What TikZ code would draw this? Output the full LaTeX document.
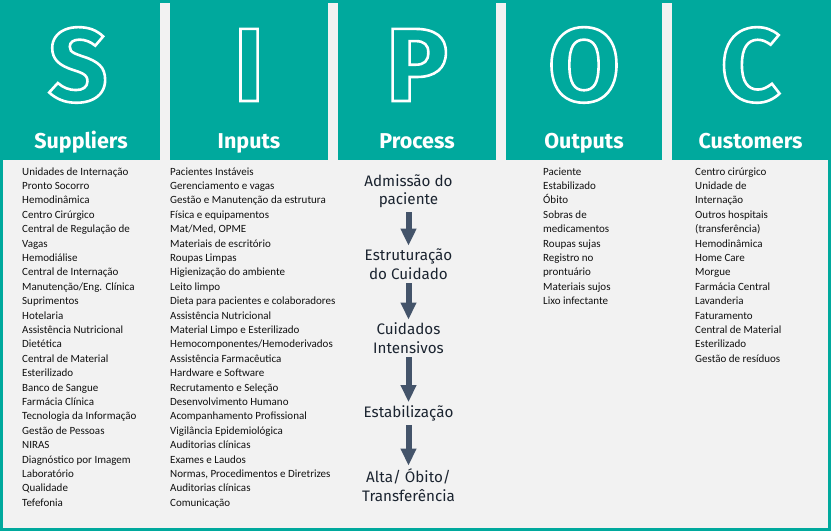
\documentclass[tikz,border=0pt]{standalone}
\usepackage{fontspec}
\setmainfont{Carlito}
\newfontfamily\fira{Fira Sans}
\usetikzlibrary{arrows.meta}
\definecolor{tealc}{HTML}{00A99D}
\definecolor{bgc}{HTML}{F2F2F2}
\definecolor{txtc}{HTML}{101010}
\definecolor{arrowc}{HTML}{44546A}
\definecolor{procc}{HTML}{1B2430}
\tikzset{
  hbox/.style={rectangle, fill=tealc, inner sep=0, minimum height=158pt},
  bigletter/.style={anchor=base, inner sep=0, text=white, font=\fira\bfseries\fontsize{104}{104}\selectfont},
  hlabel/.style={anchor=base, inner sep=0, text=white, font=\fira\bfseries\fontsize{21.5}{24}\selectfont},
  item/.style={anchor=base west, inner sep=0, text=txtc, font=\fontsize{11}{13}\selectfont},
  procnode/.style={align=center, inner sep=0, text=procc, font=\fira\fontsize{15.2}{18.5}\selectfont},
  arr/.style={draw=arrowc, line width=6pt, -{Triangle[width=15pt,length=17pt]}, shorten <=4pt, shorten >=3pt}
}
\newcommand{\outl}[1]{\special{pdf:literal direct 1 Tr 2.6 w 1 1 1 RG}#1\special{pdf:literal direct 0 Tr}}
\begin{document}
\begin{tikzpicture}[x=1pt,y=-1pt]
\useasboundingbox (0,0) rectangle (831,531);
\fill[bgc] (0,0) rectangle (831,531);
\draw[tealc, line width=3.4pt] (1.7,1.7) rectangle (829.3,529.3);
% header boxes
\node[hbox, minimum width=158pt] (hS) at (81,81) {};
\node[hbox, minimum width=158pt] (hI) at (249,81) {};
\node[hbox, minimum width=158pt] (hP) at (417,81) {};
\node[hbox, minimum width=156pt] (hO) at (584,81) {};
\node[hbox, minimum width=157pt] (hC) at (750.5,81) {};
% big letters
\node[bigletter] (lS) at (78,101) {\outl{S}};
\node[bigletter] (lI) at (249,101) {\outl{I}};
\node[bigletter] (lP) at (417,101) {\outl{P}};
\node[bigletter] (lO) at (584,101) {\outl{O}};
\node[bigletter] (lC) at (750.5,101) {\outl{C}};
% labels
\node[hlabel] (tS) at (81,148) {Suppliers};
\node[hlabel] (tI) at (249,148) {Inputs};
\node[hlabel] (tP) at (417,148) {Process};
\node[hlabel] (tO) at (584,148) {Outputs};
\node[hlabel] (tC) at (750.5,148) {Customers};
% suppliers
\foreach \t [count=\i from 0] in {Unidades de Internação, Pronto Socorro, Hemodinâmica, Centro Cirúrgico, Central de Regulação de, Vagas, Hemodiálise, Central de Internação, Manutenção/Eng. Clínica, Suprimentos, Hotelaria, Assistência Nutricional, Dietética, Central de Material, Esterilizado, Banco de Sangue, Farmácia Clínica, Tecnologia da Informação, Gestão de Pessoas, NIRAS, Diagnóstico por Imagem, Laboratório, Qualidade, Tefefonia}
  \node[item] (s\i) at (22,175+\i*14.4) {\t};
% inputs
\foreach \t [count=\i from 0] in {Pacientes Instáveis, Gerenciamento e vagas, Gestão e Manutenção da estrutura, Física e equipamentos, {Mat/Med, OPME}, Materiais de escritório, Roupas Limpas, Higienização do ambiente, Leito limpo, Dieta para pacientes e colaboradores, Assistência Nutricional, Material Limpo e Esterilizado, Hemocomponentes/Hemoderivados, Assistência Farmacêutica, Hardware e Software, Recrutamento e Seleção, Desenvolvimento Humano, Acompanhamento Profissional, Vigilância Epidemiológica, Auditorias clínicas, Exames e Laudos, {Normas, Procedimentos e Diretrizes}, Auditorias clínicas, Comunicação}
  \node[item] (i\i) at (170,175+\i*14.4) {\t};
% outputs
\foreach \t [count=\i from 0] in {Paciente, Estabilizado, Óbito, Sobras de, medicamentos, Roupas sujas, Registro no, prontuário, Materiais sujos, Lixo infectante}
  \node[item] (o\i) at (543,175+\i*14.4) {\t};
% customers
\foreach \t [count=\i from 0] in {Centro cirúrgico, Unidade de, Internação, Outros hospitais, (transferência), Hemodinâmica, Home Care, Morgue, Farmácia Central, Lavanderia, Faturamento, Central de Material, Esterilizado, Gestão de resíduos}
  \node[item] (c\i) at (695,175+\i*14.4) {\t};
% process
\node[procnode] (p1) at (408.5,191) {Admissão do\\paciente};
\node[procnode] (p2) at (408.5,264) {Estruturação\\do Cuidado};
\node[procnode] (p3) at (408.5,338) {Cuidados\\Intensivos};
\node[procnode] (p4) at (408.5,413) {Estabilização};
\node[procnode] (p5) at (408.5,485) {Alta/ Óbito/\\Transferência};
\draw[arr] (p1) -- (p2);
\draw[arr] (p2) -- (p3);
\draw[arr] (p3) -- (p4);
\draw[arr] (p4) -- (p5);
\end{tikzpicture}
\end{document}
